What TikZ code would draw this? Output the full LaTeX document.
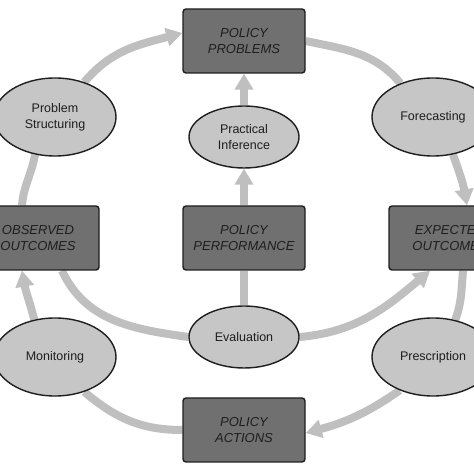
\documentclass[tikz,border=0pt]{standalone}
\usepackage{fontspec}
\setmainfont{Liberation Sans}
\usetikzlibrary{arrows.meta,shapes.geometric,backgrounds}
\definecolor{boxgray}{HTML}{707070}
\definecolor{ellgray}{HTML}{C6C6C6}
\definecolor{flowgray}{HTML}{BFBFBF}
\definecolor{ink}{HTML}{1E1E1E}
\begin{document}
\begin{tikzpicture}[x=1pt,y=1pt,
 boxnode/.style={draw=ink, line width=1.4pt, fill=boxgray, rounded corners=3pt, minimum width=122pt, minimum height=64pt, align=center, font=\fontsize{13}{16}\selectfont\itshape, text=ink, inner sep=0pt},
 ellnode/.style={ellipse, draw=ink, line width=1.4pt, fill=ellgray, align=center, font=\fontsize{12.5}{16}\selectfont, text=ink, inner sep=0pt},
 bigell/.style={ellnode, minimum width=122pt, minimum height=78pt},
 smallell/.style={ellnode, minimum width=110pt, minimum height=62pt},
 flow/.style={draw=flowgray, line width=8pt},
 flowarrow/.style={flow, -{Triangle[length=16pt,width=18pt]}}
]
\path[use as bounding box] (0,0) rectangle (474,474);
\begin{scope}
\clip (0,0) rectangle (474,474);
\node[boxnode] (PP) at (244,433) {POLICY\\PROBLEMS};
\node[smallell] (PI) at (244,337) {Practical\\Inference};
\node[bigell] (PS) at (55,357) {Problem\\Structuring};
\node[bigell] (FC) at (433,357) {Forecasting};
\node[boxnode] (OO) at (38,236) {OBSERVED\\OUTCOMES};
\node[boxnode] (PERF) at (244,236) {POLICY\\PERFORMANCE};
\node[boxnode] (EO) at (450,236) {EXPECTED\\OUTCOMES};
\node[smallell] (EV) at (244,137) {Evaluation};
\node[bigell] (MO) at (55,117) {Monitoring};
\node[bigell] (PR) at (433,117) {Prescription};
\node[boxnode] (PA) at (244,44) {POLICY\\ACTIONS};
\begin{scope}[on background layer]
\clip (0,0) rectangle (474,474);
\draw[flowarrow] (PS.50) to[out=50,in=195] ([yshift=8pt]PP.west);
\draw[flow] (PP.east) to[out=-12,in=130] (FC.134);
\draw[flowarrow] (FC.-62) to[out=-70,in=100] ([xshift=17pt]EO.north);
\draw[flow] ([xshift=13pt]EO.south) to[out=-95,in=70] (PR.59);
\draw[flowarrow] (PR.225) to[out=215,in=15] ([yshift=-3pt]PA.east);
\draw[flow] (PA.west) to[out=180,in=-40] (MO.-50);
\draw[flowarrow] (MO.119) to[out=105,in=-80] ([xshift=-16pt]OO.south);
\draw[flow] ([xshift=-16pt]OO.north) to[out=85,in=-100] (PS.242);
\draw[flowarrow] (PI.north) -- (PP.south);
\draw[flowarrow] (PERF.north) -- (PI.south);
\draw[flow] (PERF.south) -- (EV.north);
\draw[flow] ([xshift=24pt]OO.south) to[out=-65,in=172] (EV.west);
\draw[flowarrow] (EV.east) to[out=5,in=220] ([xshift=-20pt]EO.south);
\end{scope}
\end{scope}
\end{tikzpicture}
\end{document}
